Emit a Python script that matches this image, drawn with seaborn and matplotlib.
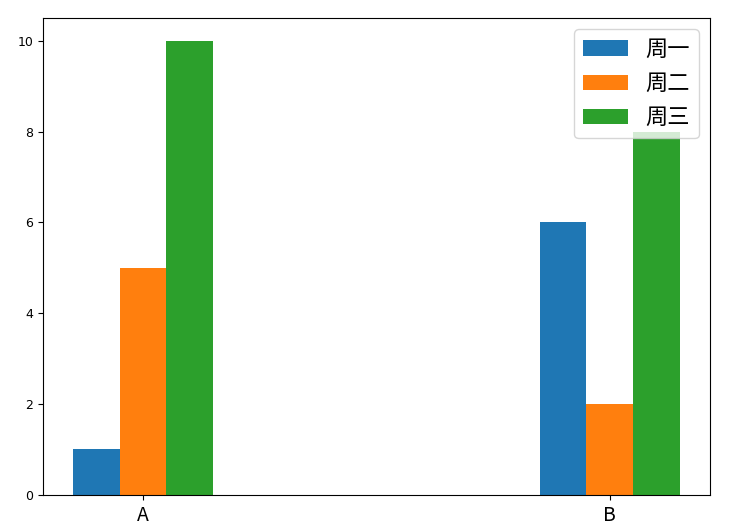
import matplotlib
matplotlib.use("Agg")
import matplotlib.pyplot as plt
import seaborn as sns
import pandas as pd

categories = ["A", "B"]
series_names = ["周一", "周二", "周三"]
mon = [1, 6]
tue = [5, 2]
wed = [10, 8]

rows = []
for name, vals in zip(series_names, [mon, tue, wed]):
    for c, v in zip(categories, vals):
        rows.append({"cat": c, "day": name, "val": v})
df = pd.DataFrame(rows)

plt.rcParams['font.family'] = ['Noto Sans CJK SC', 'DejaVu Sans']
fig = plt.figure(figsize=(7.38, 5.31), dpi=100)
ax = fig.add_axes([0.058, 0.068, 0.904, 0.898])
sns.barplot(data=df, x="cat", y="val", hue="day", width=0.3,
            palette=["#1f77b4", "#ff7f0e", "#2ca02c"], saturation=1,
            errorbar=None, ax=ax)
ax.set_xlim(-0.215, 1.215)
ax.set_ylim(0, 10.5)
ax.set_xlabel("")
ax.set_ylabel("")
ax.tick_params(axis='x', labelsize=14)
ax.tick_params(axis='y', labelsize=9)
for lbl in ax.get_yticklabels():
    lbl.set_family('DejaVu Sans')
ax.legend(title=None, loc="upper right", fontsize=16)
fig.savefig("out.png", dpi=100)
